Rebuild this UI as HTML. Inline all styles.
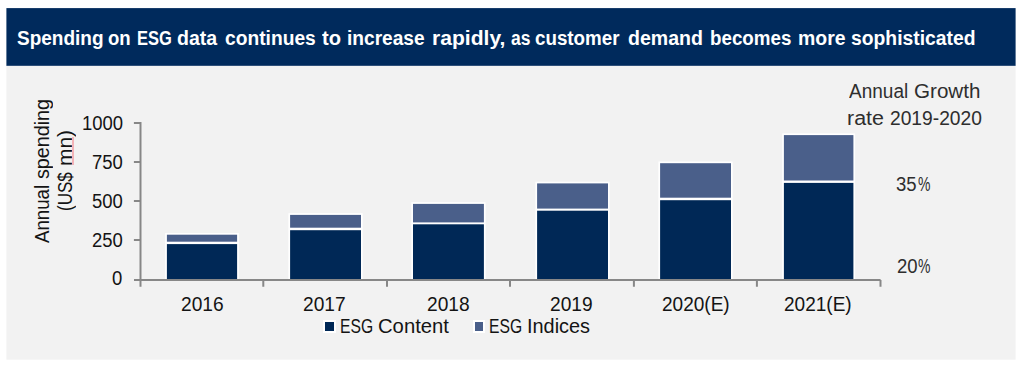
<!DOCTYPE html>
<html><head><meta charset="utf-8">
<style>
html,body{margin:0;padding:0;background:#fff;}
body{width:1024px;height:366px;position:relative;overflow:hidden;font-family:"Liberation Sans",sans-serif;}
.t{position:absolute;white-space:nowrap;line-height:1;transform-origin:0 0;}
</style></head><body>
<svg width="1024" height="366" style="position:absolute;left:0;top:0">
<rect x="6.4" y="8.1" width="1009.2" height="57.8" fill="#002a5c"/>
<rect x="6.4" y="65.9" width="1009.2" height="293.8" fill="#f2f2f2"/>
<rect x="165.2" y="233.0" width="73.6" height="46.9" fill="#fff"/>
<rect x="166.9" y="234.7" width="70.2" height="7.0" fill="#4a5f8a"/>
<rect x="166.9" y="244.1" width="70.2" height="35.8" fill="#002856"/>
<rect x="288.4" y="213.2" width="74.3" height="66.7" fill="#fff"/>
<rect x="290.1" y="214.9" width="70.9" height="12.8" fill="#4a5f8a"/>
<rect x="290.1" y="230.2" width="70.9" height="49.8" fill="#002856"/>
<rect x="411.3" y="202.2" width="74.3" height="77.7" fill="#fff"/>
<rect x="413.0" y="203.9" width="70.9" height="18.5" fill="#4a5f8a"/>
<rect x="413.0" y="224.3" width="70.9" height="55.6" fill="#002856"/>
<rect x="535.4" y="181.7" width="74.3" height="98.2" fill="#fff"/>
<rect x="537.1" y="183.4" width="70.9" height="25.2" fill="#4a5f8a"/>
<rect x="537.1" y="210.7" width="70.9" height="69.2" fill="#002856"/>
<rect x="658.4" y="161.5" width="74.3" height="118.4" fill="#fff"/>
<rect x="660.1" y="163.2" width="70.9" height="34.5" fill="#4a5f8a"/>
<rect x="660.1" y="200.2" width="70.9" height="79.8" fill="#002856"/>
<rect x="782.2" y="133.4" width="72.9" height="146.5" fill="#fff"/>
<rect x="783.9" y="135.1" width="69.5" height="45.4" fill="#4a5f8a"/>
<rect x="783.9" y="182.9" width="69.5" height="97.0" fill="#002856"/>
<path d="M140.5 122 V286.7 M134 279.95 H880.6 M133.9 123 H140.5 M133.9 162.0 H140.5 M133.9 201.0 H140.5 M133.9 240.1 H140.5 M263.3 279.95 V286.7 M387.0 279.95 V286.7 M510.0 279.95 V286.7 M633.9 279.95 V286.7 M756.9 279.95 V286.7 M880.5 279.95 V286.7" fill="none" stroke="#878787" stroke-width="2"/>
</svg>
<div class="t" style="left:16.6px;top:27.67px;font-size:20px;font-weight:bold;color:#fff;transform:scaleX(0.9501)">Spending</div>
<div class="t" style="left:107.6px;top:27.67px;font-size:20px;font-weight:bold;color:#fff;transform:scaleX(0.9276)">on</div>
<div class="t" style="left:136.6px;top:27.67px;font-size:20px;font-weight:bold;color:#fff;transform:scaleX(0.825)">ESG</div>
<div class="t" style="left:177.4px;top:27.67px;font-size:20px;font-weight:bold;color:#fff;transform:scaleX(0.9754)">data</div>
<div class="t" style="left:224.6px;top:27.67px;font-size:20px;font-weight:bold;color:#fff;transform:scaleX(0.9609)">continues</div>
<div class="t" style="left:321.8px;top:27.67px;font-size:20px;font-weight:bold;color:#fff;transform:scaleX(1.0071)">to</div>
<div class="t" style="left:347.0px;top:27.67px;font-size:20px;font-weight:bold;color:#fff;transform:scaleX(0.9565)">increase</div>
<div class="t" style="left:431.6px;top:27.67px;font-size:20px;font-weight:bold;color:#fff;transform:scaleX(1.054)">rapidly,</div>
<div class="t" style="left:510.8px;top:27.67px;font-size:20px;font-weight:bold;color:#fff;transform:scaleX(0.8761)">as</div>
<div class="t" style="left:535.2px;top:27.67px;font-size:20px;font-weight:bold;color:#fff;transform:scaleX(0.9387)">customer</div>
<div class="t" style="left:628.4px;top:27.67px;font-size:20px;font-weight:bold;color:#fff;transform:scaleX(0.9768)">demand</div>
<div class="t" style="left:710.2px;top:27.67px;font-size:20px;font-weight:bold;color:#fff;transform:scaleX(0.9383)">becomes</div>
<div class="t" style="left:798.0px;top:27.67px;font-size:20px;font-weight:bold;color:#fff;transform:scaleX(0.9714)">more</div>
<div class="t" style="left:851.2px;top:27.67px;font-size:20px;font-weight:bold;color:#fff;transform:scaleX(0.9659)">sophisticated</div>
<div class="t" style="left:849.0px;top:80.67px;font-size:20px;font-weight:normal;color:#2e2e2e;transform:scaleX(0.9501)">Annual</div>
<div class="t" style="left:914.4px;top:80.67px;font-size:20px;font-weight:normal;color:#2e2e2e;transform:scaleX(1.0306)">Growth</div>
<div class="t" style="left:847.2px;top:108.07px;font-size:20px;font-weight:normal;color:#2e2e2e;transform:scaleX(1.0729)">rate</div>
<div class="t" style="left:889.8px;top:108.07px;font-size:20px;font-weight:normal;color:#2e2e2e;transform:scaleX(0.9607)">2019-2020</div>
<div class="t" style="left:339.6px;top:316.07px;font-size:20px;font-weight:normal;color:#141414;transform:scaleX(0.7836)">ESG</div>
<div class="t" style="left:377.5px;top:316.07px;font-size:20px;font-weight:normal;color:#141414;transform:scaleX(1.0123)">Content</div>
<div class="t" style="left:489.0px;top:316.07px;font-size:20px;font-weight:normal;color:#141414;transform:scaleX(0.7832)">ESG</div>
<div class="t" style="left:526.5px;top:316.07px;font-size:20px;font-weight:normal;color:#141414;transform:scaleX(0.995)">Indices</div>
<div class="t" style="left:896.4px;top:174.27px;font-size:20px;font-weight:normal;color:#2e2e2e;transform:scaleX(0.9261)">35</div>
<div class="t" style="left:917.6px;top:174.27px;font-size:20px;font-weight:normal;color:#2e2e2e;transform:scaleX(0.6992)">%</div>
<div class="t" style="left:896.6px;top:256.27px;font-size:20px;font-weight:normal;color:#2e2e2e;transform:scaleX(0.9261)">20</div>
<div class="t" style="left:917.6px;top:256.27px;font-size:20px;font-weight:normal;color:#2e2e2e;transform:scaleX(0.6992)">%</div>
<div class="t" style="left:81.5px;top:112.57px;font-size:20px;font-weight:normal;color:#141414;transform:scaleX(0.9241)">1000</div>
<div class="t" style="left:92.0px;top:151.57px;font-size:20px;font-weight:normal;color:#141414;transform:scaleX(0.9241)">750</div>
<div class="t" style="left:92.0px;top:191.07px;font-size:20px;font-weight:normal;color:#141414;transform:scaleX(0.9241)">500</div>
<div class="t" style="left:92.0px;top:229.57px;font-size:20px;font-weight:normal;color:#141414;transform:scaleX(0.9241)">250</div>
<div class="t" style="left:112.0px;top:268.07px;font-size:20px;font-weight:normal;color:#141414;transform:scaleX(0.9241)">0</div>
<div class="t" style="left:180.5px;top:293.57px;font-size:20px;font-weight:normal;color:#141414;transform:scaleX(0.958)">2016</div>
<div class="t" style="left:303.25px;top:293.57px;font-size:20px;font-weight:normal;color:#141414;transform:scaleX(0.958)">2017</div>
<div class="t" style="left:427.25px;top:293.57px;font-size:20px;font-weight:normal;color:#141414;transform:scaleX(0.958)">2018</div>
<div class="t" style="left:550.25px;top:293.57px;font-size:20px;font-weight:normal;color:#141414;transform:scaleX(0.958)">2019</div>
<div class="t" style="left:661.5px;top:294.07px;font-size:20px;font-weight:normal;color:#141414;transform:scaleX(0.9507)">2020(E)</div>
<div class="t" style="left:784.0px;top:294.07px;font-size:20px;font-weight:normal;color:#141414;transform:scaleX(0.9507)">2021(E)</div>
<div style="position:absolute;left:322.9px;top:319.9px;width:9.2px;height:8.7px;background:#002856;border:2px solid #fff"></div>
<div style="position:absolute;left:472.9px;top:319.9px;width:8.3px;height:8.7px;background:#4a5f8a;border:2px solid #fff"></div>
<div style="position:absolute;left:0;top:0;width:0;height:0;transform-origin:0 0;transform:rotate(-90deg)"><div class="t" style="left:-243.0px;top:30.82px;font-size:21px;color:#141414;transform:scaleX(0.8878)">Annual</div></div>
<div style="position:absolute;left:0;top:0;width:0;height:0;transform-origin:0 0;transform:rotate(-90deg)"><div class="t" style="left:-178.8px;top:30.82px;font-size:21px;color:#141414;transform:scaleX(0.938)">spending</div></div>
<div style="position:absolute;left:0;top:0;width:0;height:0;transform-origin:0 0;transform:rotate(-90deg)"><div class="t" style="left:-211.2px;top:54.22px;font-size:21px;color:#141414;transform:scaleX(0.8099)">(US$</div></div>
<div style="position:absolute;left:0;top:0;width:0;height:0;transform-origin:0 0;transform:rotate(-90deg)"><div class="t" style="left:-166.0px;top:54.22px;font-size:21px;color:#141414;transform:scaleX(0.995)">mn)</div></div>

<div style="position:absolute;left:72.4px;top:137.3px;width:1.4px;height:27.9px;background:#f3b3b7"></div>
</body></html>
